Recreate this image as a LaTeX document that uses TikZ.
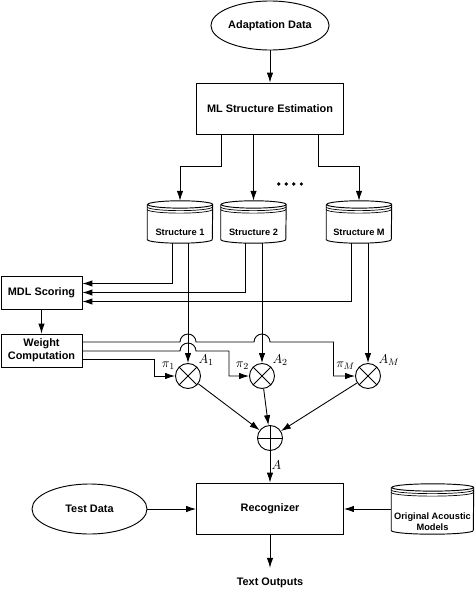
\documentclass[tikz,border=0pt]{standalone}
\usepackage{fontspec}
\setsansfont{Liberation Sans}
\usepackage{tikz}
\usetikzlibrary{calc, positioning, arrows.meta, shapes.geometric}
\tikzset{
    block/.style={rectangle, draw=black, line width=0.75pt, align=center, inner sep=0pt, font=\sffamily\bfseries\fontsize{9.3}{11}\selectfont},
    data/.style={ellipse, draw=black, line width=0.8pt, minimum width=3.45cm, minimum height=1.47cm, inner sep=0pt, font=\sffamily\bfseries\fontsize{9.3}{11}\selectfont},
    db/.style={rectangle, inner sep=0pt, minimum width=2*#1, align=center, text height=1.03cm, text depth=0.23cm, font=\sffamily\bfseries\fontsize{7.9}{9.4}\selectfont,
        append after command={\pgfextra{
            \draw[line width=0.8pt] ($(\tikzlastnode.north west)+(0,3.7)$) -- ($(\tikzlastnode.south west)+(0,-3.7)$) arc (180:360:#1 and 0.11cm) -- ($(\tikzlastnode.north east)+(0,3.7)$) arc (0:360:#1 and 0.11cm);
            \draw[line width=0.6pt] ($(\tikzlastnode.north west)+(0,6.2)$) arc (180:360:#1 and 0.11cm);
            \draw[line width=0.6pt] ($(\tikzlastnode.north west)+(0,8.7)$) arc (180:360:#1 and 0.11cm);
        }}},
    mult/.style={circle, draw=black, line width=0.8pt, minimum size=0.75cm, inner sep=0pt, path picture={\draw[line width=0.7pt] (path picture bounding box.north west) -- (path picture bounding box.south east) (path picture bounding box.north east) -- (path picture bounding box.south west);}},
    adder/.style={circle, draw=black, line width=0.8pt, minimum size=0.75cm, inner sep=0pt, path picture={\draw[line width=0.7pt] (path picture bounding box.north) -- (path picture bounding box.south) (path picture bounding box.west) -- (path picture bounding box.east);}},
    arrow/.style={-{Latex[length=8.5pt, width=5.5pt]}, line width=0.75pt},
    lbl/.style={font=\fontsize{11}{12}\selectfont, inner sep=1pt},
    txt/.style={font=\sffamily\bfseries\fontsize{9.3}{11}\selectfont}
}

\begin{document}
\begin{tikzpicture}[x=0.03cm, y=-0.03cm]
    \useasboundingbox (0,0) rectangle (474,590);

    % Estimation
    \node[data] (adapt) at (270,25.5) {Adaptation Data};
    \node[block, minimum width=4.41cm, minimum height=1.53cm] (mls) at (270,108.5) {ML Structure Estimation};

    % Structures
    \node[db=0.975cm] (s1) at (180,222) {Structure 1};
    \node[db=0.975cm] (s2) at (253.5,222) {Structure 2};
    \node[db=0.975cm] (sM) at (359,222) {Structure M};
    \foreach \i in {0,...,3}
        \fill ({278.7+7.55*\i},184) circle (0.055cm);

    \draw[arrow] (adapt) -- (mls);
    \draw[arrow] ($(mls.south)+(-48.5,0)$) |- ($(s1.north)+(0,-34)$) -- (s1.north);
    \draw[arrow] (s2.north |- mls.south) -- (s2.north);
    \draw[arrow] ($(mls.south)+(48.5,0)$) |- ($(sM.north)+(0,-34)$) -- (sM.north);

    % Scoring and weights
    \node[block, minimum width=2.43cm, minimum height=0.99cm] (mdl) at (41.5,292.5) {MDL Scoring};
    \node[block, minimum width=2.43cm, minimum height=0.99cm] (wc) at (41.5,350.5) {Weight\\Computation};

    \draw[arrow] ($(s1.south)+(-8,0)$) |- ($(mdl.east)+(0,-9)$);
    \draw[arrow] ($(s2.south)+(-8.5,0)$) |- (mdl.east);
    \draw[arrow] ($(sM.south)+(-8,0)$) |- ($(mdl.east)+(0,9)$);
    \draw[arrow] (mdl) -- (wc);

    % Weighting
    \node[mult, label={[lbl]45:$A_1$}, label={[lbl]155:$\pi_1$}] (m1) at (188,376) {};
    \node[mult, label={[lbl]45:$A_2$}, label={[lbl]155:$\pi_2$}] (m2) at (262,376) {};
    \node[mult, label={[lbl]45:$A_M$}, label={[lbl]155:$\pi_M$}] (mM) at (368,376) {};
    \node[adder] (sum) at (270,438) {};

    \draw[arrow] (m1.north |- s1.south) -- (m1.north);
    \draw[arrow] (m2.north |- s2.south) -- (m2.north);
    \draw[arrow] (mM.north |- sM.south) -- (mM.north);

    \draw[arrow] ($(wc.east)+(0,-8.5)$) -- ($(m1.north |- wc.east)+(-8,-8.5)$) arc (180:0:0.24cm)
        -- ($(m2.north |- wc.east)+(-8,-8.5)$) arc (180:0:0.24cm) -| ($(mM.west)+(-21.5,0)$) -- (mM.west);
    \draw[arrow] ($(wc.east)+(0,0.5)$) -- ($(m1.north |- wc.east)+(-8,0.5)$) arc (180:0:0.24cm)
        -| ($(m2.west)+(-20,0)$) -- (m2.west);
    \draw[arrow] ($(wc.east)+(0,8.5)$) -| ($(m1.west)+(-21,0)$) -- (m1.west);

    \draw[arrow] (m1) -- (sum);
    \draw[arrow] (m2) -- (sum);
    \draw[arrow] (mM) -- (sum);

    % Recognition
    \node[block, minimum width=4.41cm, minimum height=1.53cm] (rec) at (270,508.5) {Recognizer};
    \node[data, minimum height=1.5cm] (test) at (89.5,509) {Test Data};
    \node[db=1.23cm, text height=1.395cm, text depth=0.105cm] (oam) at (432.5,509) {Original Acoustic\\Models};
    \node[txt, inner sep=0.3cm] (out) at (270,583) {Text Outputs};

    \draw[arrow] (sum) -- node[lbl, right, pos=0.45] {$A$} (rec);
    \draw[arrow] (test.east) -- (rec.west |- test.east);
    \draw[arrow] (oam.west) -- (rec.east |- oam.west);
    \draw[arrow] (rec) -- (out);
\end{tikzpicture}
\end{document}
